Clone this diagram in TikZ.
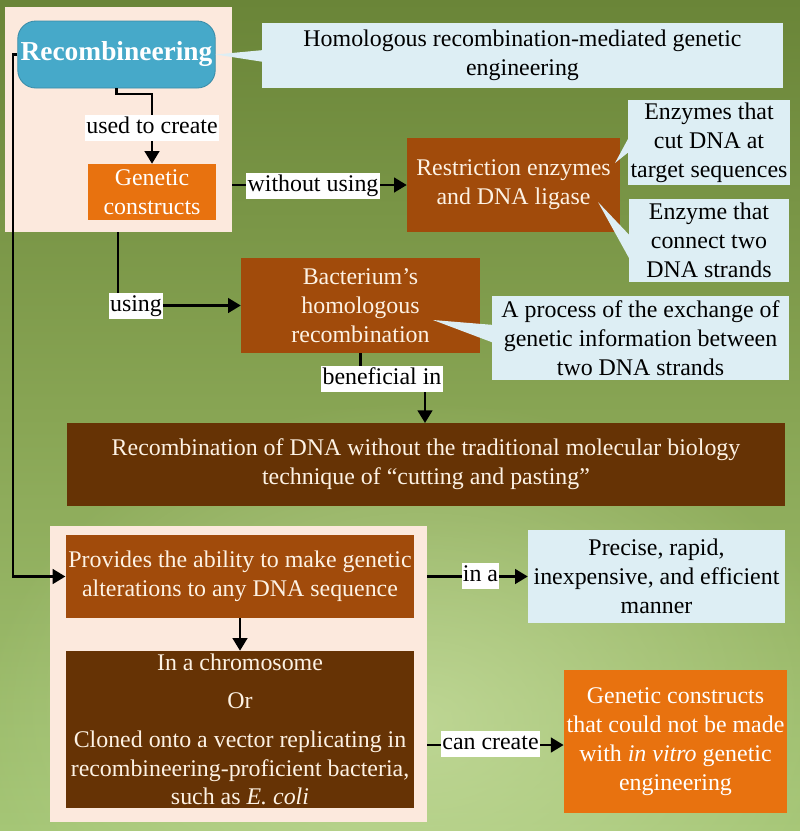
\documentclass[tikz,border=0pt]{standalone}
\usepackage{fontspec}
\setmainfont{Liberation Serif}
\usetikzlibrary{arrows.meta,fadings}
\tikzfading[name=glowfade, inner color=transparent!0, outer color=transparent!100]
\definecolor{bgtop}{RGB}{106,133,56}
\definecolor{bgmid}{RGB}{136,165,84}
\definecolor{bgbot}{RGB}{165,198,118}
\definecolor{bglight}{RGB}{200,222,160}
\definecolor{peach}{RGB}{252,233,221}
\definecolor{recblue}{RGB}{70,169,201}
\definecolor{recedge}{RGB}{58,140,168}
\definecolor{callblue}{RGB}{221,238,244}
\definecolor{orng}{RGB}{232,114,15}
\definecolor{brwn}{RGB}{161,75,11}
\definecolor{dbrwn}{RGB}{102,51,5}
\definecolor{cream}{RGB}{253,242,228}
\tikzset{
  base/.style={font=\fontsize{17}{20.5}\selectfont, align=center, inner sep=2pt, anchor=center},
  recbox/.style={base, fill=recblue, draw=recedge, line width=0.6pt, rounded corners=0.45cm, text=white, font=\fontsize{19.5}{22}\selectfont\bfseries},
  callbox/.style={base, fill=callblue, text=black},
  obox/.style={base, fill=orng, text=white},
  bbox/.style={base, fill=brwn, text=cream},
  dbox/.style={base, fill=dbrwn, text=cream},
  lbl/.style={base, fill=white, text=black, inner xsep=1pt, inner ysep=1pt, text height=12.5pt, text depth=4pt},
  conn/.style={draw=black, line width=1.5pt, -{Triangle[length=9pt,width=10.5pt]}},
  ptr/.style={fill=callblue}
}
\begin{document}
\begin{tikzpicture}
\useasboundingbox (0,0) rectangle (20,-20.775);
\shade[top color=bgtop, bottom color=bgbot, middle color=bgmid] (0,0) rectangle (20,-20.775);
\begin{scope}
\clip (0,0) rectangle (20,-20.775);
\fill[bglight, opacity=0.75, path fading=glowfade] (10.5,-18) ellipse (11cm and 8cm);
\end{scope}
% panels
\fill[peach] (0.125,-0.175) rectangle (5.8,-5.8);
\fill[peach] (1.25,-13.15) rectangle (10.675,-20.55);
% boxes
\node[recbox, minimum width=4.925cm, minimum height=1.675cm] (rec) at (2.9125,-1.3625) {Recombineering};
\node[callbox, minimum width=13.025cm, minimum height=1.625cm] (hom) at (13.0625,-1.3875) {Homologous recombination-mediated genetic\\engineering};
\node[obox, minimum width=3.2cm, minimum height=1.4cm] (gc) at (3.8,-4.8) {Genetic\\constructs};
\node[bbox, minimum width=5.325cm, minimum height=2.35cm] (restr) at (12.8375,-4.625) {Restriction enzymes\\and DNA ligase};
\node[callbox, minimum width=4.0cm, minimum height=2.075cm] (enz1) at (17.725,-3.5625) {Enzymes that\\cut DNA at\\target sequences};
\node[callbox, minimum width=4.0cm, minimum height=2.075cm] (enz2) at (17.725,-6.0125) {Enzyme that\\connect two\\DNA strands};
\node[bbox, minimum width=5.975cm, minimum height=2.375cm] (bact) at (9.0125,-7.6375) {Bacterium’s\\homologous\\recombination};
\node[callbox, minimum width=7.425cm, minimum height=2.1cm] (proc) at (16.0125,-8.45) {A process of the exchange of\\genetic information between\\two DNA strands};
\node[dbox, minimum width=17.95cm, minimum height=2.075cm] (big) at (10.65,-11.6125) {Recombination of DNA without the traditional molecular biology\\technique of “cutting and pasting”};
\node[bbox, minimum width=8.7cm, minimum height=2.075cm] (prov) at (6.0,-14.4125) {Provides the ability to make genetic\\alterations to any DNA sequence};
\node[dbox, minimum width=8.7cm, minimum height=3.925cm] (chrom) at (6.0,-18.2375) {In a chromosome\\[0.4em]Or\\[0.4em]Cloned onto a vector replicating in\\recombineering-proficient bacteria,\\such as \textit{E. coli}};
\node[callbox, minimum width=6.425cm, minimum height=2.325cm] (prec) at (16.4125,-14.4125) {Precise, rapid,\\inexpensive, and efficient\\manner};
\node[obox, minimum width=5.475cm, minimum height=3.575cm] (fin) at (16.8875,-18.5375) {Genetic constructs\\that could not be made\\with \textit{in vitro} genetic\\engineering};
% callout pointers
\fill[ptr] (rec.east) -- (6.6,-1.25) -- (6.6,-1.55) -- cycle;
\fill[ptr] (15.375,-4.075) -- (15.78,-3.325) -- (15.78,-3.75) -- cycle;
\fill[ptr] (14.95,-5.05) -- (15.78,-5.925) -- (15.78,-6.55) -- cycle;
\fill[ptr] (10.825,-8.0) -- (12.35,-8.125) -- (12.35,-8.575) -- cycle;
% free ends
\coordinate (p1e) at (5.8,-4.625);
\coordinate (p1s) at (2.95,-5.8);
\coordinate (bn) at (10.625,-10.575);
\coordinate (p2e) at (10.675,-14.4125);
\coordinate (p2f) at (10.675,-18.625);
% connectors
\draw[conn] (rec.south) -- ++(0,-0.15) -| (gc.north);
\draw[conn] (p1e) -- (restr.west);
\draw[conn] (p1s) |- (bact.west);
\draw[conn] (bact.south) -- (9.0125,-9.45) -| (bn);
\draw[conn] (rec.west) -- ++(-0.1,0) |- (prov.west);
\draw[conn] (prov.south) -- (chrom.north);
\draw[conn] (p2e) -- (prec.west);
\draw[conn] (p2f) -- (fin.west |- p2f);
% labels
\node[lbl] (l1) at (3.8,-3.2) {used to create};
\node[lbl] (l2) at (7.825,-4.65) {without using};
\node[lbl] (l3) at (3.4,-7.65) {using};
\node[lbl] (l4) at (9.55,-9.4625) {beneficial in};
\node[lbl] (l5) at (12.0125,-14.4) {in a};
\node[lbl] (l6) at (12.2625,-18.6) {can create};
\end{tikzpicture}
\end{document}
